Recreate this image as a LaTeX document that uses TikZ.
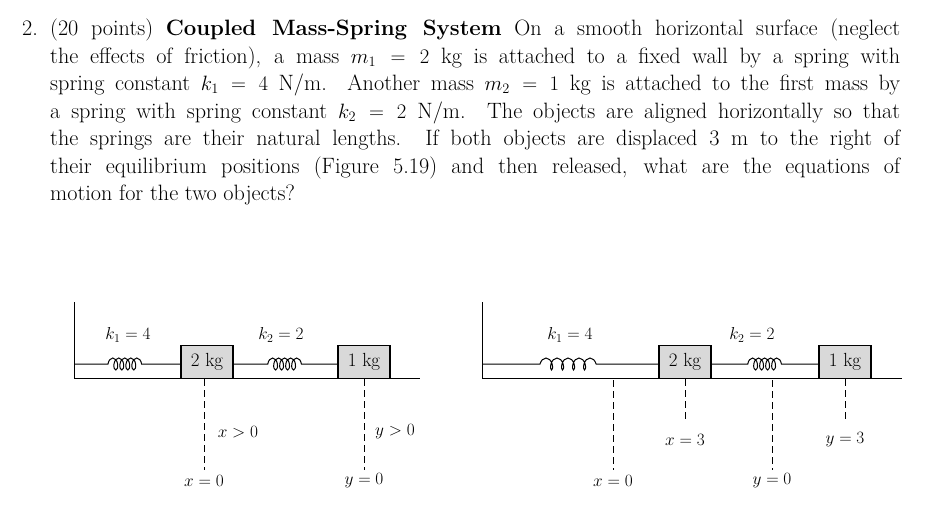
\documentclass[tikz,border=0pt]{standalone}
\usetikzlibrary{decorations.pathmorphing}
\begin{document}
\begin{tikzpicture}[x=1pt,y=-1pt,
  mass/.style={draw,line width=1.6pt,fill=gray!30,minimum width=52pt,minimum height=33pt,inner sep=0pt,font=\fontsize{19}{19}\selectfont},
  lbl/.style={font=\fontsize{17.5}{17.5}\selectfont},
  dsh/.style={dashed,dash pattern=on 7pt off 4pt,line width=0.7pt},
  spr/.style={line width=1pt,decorate,decoration={coil,aspect=0.55,amplitude=6pt,segment length=6pt,pre length=#1,post length=#1}},
  ln/.style={line width=1pt}]
\useasboundingbox (0,0) rectangle (940,530);
\node[anchor=north west,inner sep=0pt,text width=878pt,align=justify,font=\fontsize{22.2}{27.5}\selectfont] (txt) at (22,19)
{\hangindent=28pt\hangafter=1 \makebox[28pt][l]{2.}(20 points) \textbf{Coupled Mass-Spring System} On a smooth horizontal surface (neglect\linebreak the effects of friction), a mass $m_1=2$ kg is attached to a fixed wall by a spring with\linebreak spring constant $k_1=4$ N/m. Another mass $m_2=1$ kg is attached to the first mass by\linebreak a spring with spring constant $k_2=2$ N/m. The objects are aligned horizontally so that\linebreak the springs are their natural lengths. If both objects are displaced 3 m to the right of\linebreak their equilibrium positions (Figure 5.19) and then released, what are the equations of\linebreak motion for the two objects?\par};
% left figure
\coordinate (wa) at (74,302); \coordinate (wb) at (74,378); \coordinate (fe) at (420,378);
\draw[ln] (wa) -- (wb) -- (fe);
\coordinate (s1) at (74,364);
\node[mass] (ma) at (207,362) {2 kg};
\node[mass] (mb) at (364,362) {1 kg};
\draw[spr=34pt] (s1) -- (ma.west|-s1);
\draw[spr=34pt] (ma.east|-s1) -- (mb.west|-s1);
\node[lbl] (k1a) at (128,335) {$k_1=4$};
\node[lbl] (k2a) at (281,335) {$k_2=2$};
\coordinate (xa) at (204,470); \coordinate (ya) at (364,470);
\draw[dsh] (ma.south-|xa) -- (xa);
\draw[dsh] (mb.south-|ya) -- (ya);
\node[lbl] (gx) at (238,432) {$x>0$};
\node[lbl] (gy) at (395,432) {$y>0$};
\node[lbl] (x0a) at (204,481) {$x=0$};
\node[lbl] (y0a) at (364,481) {$y=0$};
% right figure
\coordinate (wc) at (482,302); \coordinate (wd) at (482,378); \coordinate (ff) at (902,378);
\draw[ln] (wc) -- (wd) -- (ff);
\coordinate (s2) at (482,364);
\node[mass] (mc) at (685,362) {2 kg};
\node[mass] (md) at (845,362) {1 kg};
\draw[ln,decorate,decoration={coil,aspect=0.55,amplitude=6pt,segment length=11pt,pre length=58pt,post length=58pt}] (s2) -- (mc.west|-s2);
\draw[spr=36pt] (mc.east|-s2) -- (md.west|-s2);
\node[lbl] (k1b) at (570,335) {$k_1=4$};
\node[lbl] (k2b) at (752,335) {$k_2=2$};
\coordinate (xb0) at (613,380); \coordinate (xb) at (613,470);
\coordinate (yb0) at (772,380); \coordinate (yb) at (772,470);
\coordinate (x3) at (685,420); \coordinate (y3) at (845,420);
\draw[dsh] (xb0) -- (xb);
\draw[dsh] (yb0) -- (yb);
\draw[dsh] (mc.south-|x3) -- (x3);
\draw[dsh] (md.south-|y3) -- (y3);
\node[lbl] (x3l) at (685,440) {$x=3$};
\node[lbl] (y3l) at (845,440) {$y=3$};
\node[lbl] (x0b) at (613,481) {$x=0$};
\node[lbl] (y0b) at (772,481) {$y=0$};
\end{tikzpicture}
\end{document}
